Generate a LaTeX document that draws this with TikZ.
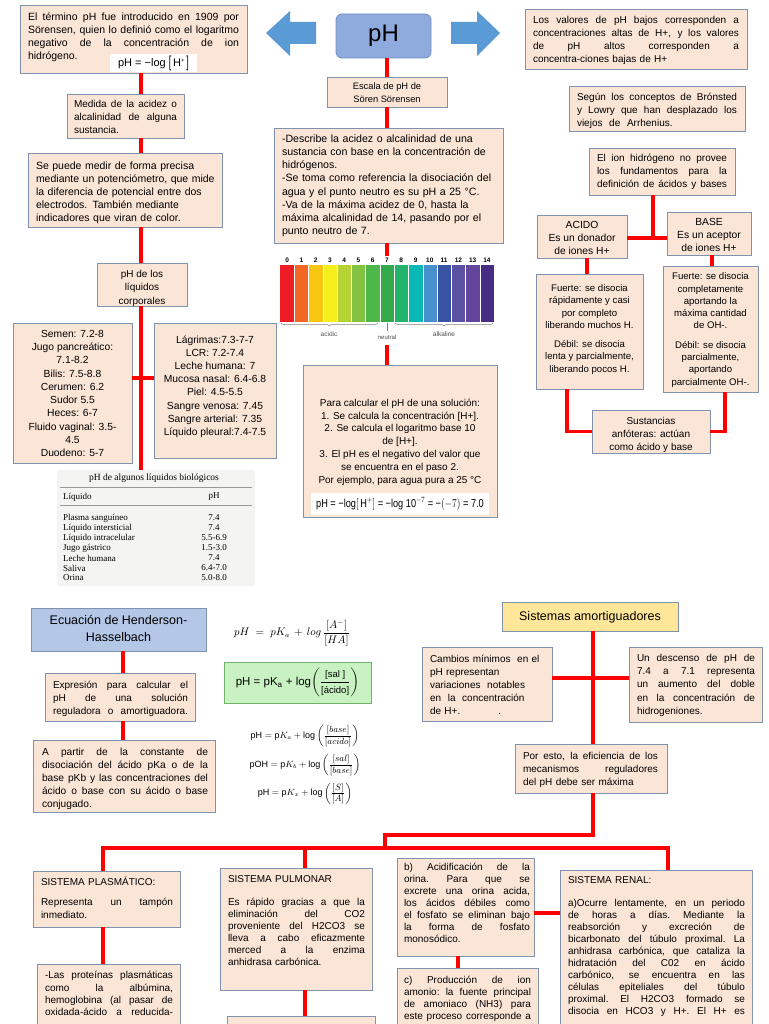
\documentclass[tikz,border=0pt]{standalone}
\usepackage{amsmath}
\usepackage{graphicx}
\usepackage{fontspec}
\setmainfont{Liberation Sans}
\newfontfamily\serif{Liberation Serif}
\usetikzlibrary{decorations.pathreplacing}
\setlength{\parindent}{0pt}
\definecolor{peach}{HTML}{FBE5D6}
\definecolor{bordc}{HTML}{7F93AE}
\definecolor{phblue}{HTML}{8FAADC}
\definecolor{phbord}{HTML}{6F8FC9}
\definecolor{arrowblue}{HTML}{5B9BD5}
\definecolor{hblue}{HTML}{B4C7E7}
\definecolor{yellowc}{HTML}{FFE699}
\definecolor{greenf}{HTML}{C9F2C2}
\definecolor{greenb}{HTML}{72B36C}
\definecolor{tablebg}{HTML}{F4F4F2}
\definecolor{redc}{HTML}{FF0000}
\definecolor{pc0}{HTML}{EE1C25}
\definecolor{pc1}{HTML}{F26724}
\definecolor{pc2}{HTML}{F8C611}
\definecolor{pc3}{HTML}{F5ED1C}
\definecolor{pc4}{HTML}{B5D333}
\definecolor{pc5}{HTML}{84C341}
\definecolor{pc6}{HTML}{4DB849}
\definecolor{pc7}{HTML}{33A94B}
\definecolor{pc8}{HTML}{22B46B}
\definecolor{pc9}{HTML}{0AB8B6}
\definecolor{pc10}{HTML}{4690CD}
\definecolor{pc11}{HTML}{3853A4}
\definecolor{pc12}{HTML}{5A51A2}
\definecolor{pc13}{HTML}{63459D}
\definecolor{pc14}{HTML}{462C83}
\newlength\jwid
\newcommand\fs[2]{\fontsize{#1}{#2}\selectfont}
\newcommand\jf[1]{\hbox to \jwid{\spaceskip=0.28em plus 1fil\xspaceskip=0.28em plus 1fil\relax #1}}
\newcommand\jl[1]{\par\jf{#1}}
\newcommand\tb[1]{\raisebox{-1.5pt}{\scalebox{0.8}[1.45]{#1}}}
\newcommand\bx[6]{\node[box,#6,minimum width=#4pt-#2pt,minimum height=#5pt-#3pt] (#1) at ({(#2+#4)/2},{(#3+#5)/2}) {};}
\tikzset{
  box/.style={draw=bordc, line width=0.8pt, fill=peach, inner sep=0pt, outer sep=0pt},
  txt/.style={inner sep=0pt, outer sep=0pt, align=left, anchor=north west, font=\fs{10}{13}},
  ctxt/.style={inner sep=0pt, outer sep=0pt, align=center, anchor=north, font=\fs{10}{13}},
  redl/.style={draw=redc, line width=3.5pt},
  jw/.style={text width=#1pt, execute at begin node={\setlength{\jwid}{#1pt}}},
}
\begin{document}
\begin{tikzpicture}[x=1pt,y=-1pt]
\useasboundingbox (0,0) rectangle (768,1024);
\fill[white] (0,0) rectangle (768,1024);

% ---------- top ----------
\bx{tl}{20}{5}{247}{73}{}
\node[txt, jw=211, font=\fs{10.5}{13.3}] (tlt) at (28,12.5) {\jf{El término pH fue introducido en 1909 por}\jl{Sörensen, quien lo definió como el logaritmo}\jl{negativo de la concentración de ion}};
\node[txt, font=\fs{10.5}{13.3}] (tlt2) at (28,52) {hidrógeno.};
\node[fill=white, minimum width=87pt, minimum height=18pt, inner sep=0pt] (f1) at (153.5,63.5) {\fs{11}{13}pH = −log \tb{[}\,H\raisebox{4pt}{\fs{6}{6}+}\,\tb{]}};

\fill[arrowblue] (266,33) -- (290,11) -- (290,22) -- (316,22) -- (316,44) -- (290,44) -- (290,56) -- cycle;
\fill[arrowblue] (500,33) -- (477,11) -- (477,22) -- (451,22) -- (451,44) -- (477,44) -- (477,56) -- cycle;

\node[draw=phbord, line width=0.8pt, fill=phblue, rounded corners=6pt, minimum width=95pt, minimum height=44pt, inner sep=0pt, font=\fs{24}{28}] (ph) at (383.5,36) {pH};

\coordinate (cx) at (387,0);
\bx{esc}{327}{77}{447}{107}{}
\node[ctxt, font=\fs{9.3}{13}] (esct) at (387,83) {Escala de pH de\\Sören Sörensen};

\bx{desc}{274}{128}{503}{243}{}
\node[txt, text width=220pt, font=\fs{10.6}{13.1}] (desct) at (282,135) {-Describe la acidez o alcalinidad de una\\sustancia con base en la concentración de\\hidrógenos.\\-Se toma como referencia la disociación del\\agua y el punto neutro es su pH a 25 °C.\\-Va de la máxima acidez de 0, hasta la\\máxima alcalinidad de 14, pasando por el\\punto neutro de 7.};

\draw[redl] (ph.south -| cx) -- (esc.north -| cx);
\draw[redl] (esc.south -| cx) -- (desc.north -| cx);
\coordinate (scaletop) at (387,256);
\draw[redl] (desc.south -| cx) -- (scaletop);

% pH scale
\foreach \i in {0,...,14} {
  \fill[pc\i] ({280+\i*14.27},265) rectangle ({280+(\i+1)*14.27},322);
  \node[inner sep=0pt, font=\bfseries\fs{6.5}{7}] (n\i) at ({280+(\i+0.5)*14.27},260) {\i};
}
\foreach \i in {1,...,14} { \draw[white, line width=0.3pt] ({280+\i*14.27},265) -- ({280+\i*14.27},322); }
\draw[gray, line width=0.5pt, decorate, decoration={brace, mirror, amplitude=3pt}] (281,323) -- (378,323);
\draw[gray, line width=0.5pt, decorate, decoration={brace, mirror, amplitude=3pt}] (395,323) -- (493,323);
\draw[gray, line width=0.5pt] (387,323) -- (387,331);
\node[inner sep=0pt, font=\fs{6.5}{7}, text=black!70] (acl) at (329,334) {acidic};
\node[inner sep=0pt, font=\fs{6}{7}, text=black!70] (nel) at (387,337) {neutral};
\node[inner sep=0pt, font=\fs{6.5}{7}, text=black!70] (all) at (444,334) {alkaline};

\coordinate (scalebot) at (387,345);
\bx{calc}{303}{365}{497}{517}{}
\draw[redl] (scalebot) -- (calc.north -| cx);
\node[ctxt, font=\fs{10}{12.8}] (calct) at (400,399) {Para calcular el pH de una solución:\\1. Se calcula la concentración [H+].\\2. Se calcula el logaritmo base 10\\de [H+].\\3. El pH es el negativo del valor que\\se encuentra en el paso 2.\\Por ejemplo, para agua pura a 25 °C};
\node[fill=white, minimum width=178pt, minimum height=22pt, inner sep=0pt] (f2) at (400,504) {\scalebox{0.8}[1]{\fs{11.5}{13}pH = −log$\left[\,\text{H}^{+}\right]$ = −log 10$^{-7}$ = −$\left(-7\right)$ = 7.0}};

% ---------- left column ----------
\coordinate (lx) at (141,0);
\coordinate (crossy) at (0,378);
\coordinate (lend) at (141,470);
\bx{med}{67}{94}{184}{138}{}
\node[txt, jw=103] (medt) at (74,100.5) {\jf{Medida de la acidez o}\jl{alcalinidad de alguna}\par sustancia.};
\bx{sep}{28}{153}{222}{227}{}
\node[txt, text width=186pt, font=\fs{10.5}{13}] (sept) at (36,162) {Se puede medir de forma precisa\\mediante un potenciómetro, que mide\\la diferencia de potencial entre dos\\electrodos. También mediante\\indicadores que viran de color.};
\bx{liq}{97}{263}{187}{306}{}
\node[ctxt, font=\fs{10}{13.5}] (liqt) at (142,270) {pH de los\\líquidos\\corporales};
\bx{ll}{13}{323}{132}{463}{}
\node[ctxt, font=\fs{10.3}{13.3}] (llt) at (72.5,330) {Semen: 7.2-8\\Jugo pancreático:\\7.1-8.2\\Bilis: 7.5-8.8\\Cerumen: 6.2\\Sudor 5.5\\Heces: 6-7\\Fluido vaginal: 3.5-\\4.5\\Duodeno: 5-7};
\bx{lr}{154}{323}{276}{458}{}
\node[ctxt, font=\fs{10.3}{13.1}] (lrt) at (215,336) {Lágrimas:7.3-7-7\\LCR: 7.2-7.4\\Leche humana: 7\\Mucosa nasal: 6.4-6.8\\Piel: 4.5-5.5\\Sangre venosa: 7.45\\Sangre arterial: 7.35\\Líquido pleural:7.4-7.5};
\draw[redl] (tl.south -| lx) -- (med.north -| lx);
\draw[redl] (med.south -| lx) -- (sep.north -| lx);
\draw[redl] (sep.south -| lx) -- (liq.north -| lx);
\draw[redl] (liq.south -| lx) -- (lend);
\draw[redl] (ll.east |- crossy) -- (lr.west |- crossy);

% table
\fill[tablebg] (57,470) rectangle (255,586);
\node[inner sep=0pt, font=\serif\fs{9.5}{11}] (tbt) at (154,478) {pH de algunos líquidos biológicos};
\draw[gray!80, line width=0.8pt] (60,487) -- (252,487);
\node[inner sep=0pt, anchor=west, font=\serif\fs{9}{10}] (th1) at (63,497) {Líquido};
\node[inner sep=0pt, font=\serif\fs{9}{10}] (th2) at (214,497) {pH};
\draw[gray!80, line width=0.6pt] (60,505) -- (252,505);
\foreach \a/\b [count=\k from 0] in {Plasma sanguíneo/7.4, Líquido intersticial/7.4, Líquido intracelular/5.5-6.9, Jugo gástrico/1.5-3.0, Leche humana/7.4, Saliva/6.4-7.0, Orina/5.0-8.0} {
  \node[inner sep=0pt, anchor=west, font=\serif\fs{9}{10}] (ra\k) at (63,{518+\k*10}) {\a};
  \node[inner sep=0pt, font=\serif\fs{9}{10}] (rb\k) at (214,{518+\k*10}) {\b};
}

% ---------- right column ----------
\coordinate (rx) at (653,0);
\coordinate (jy) at (0,238);
\bx{tr}{525}{9}{747}{69}{}
\node[txt, jw=206] (trt) at (533,16.5) {\jf{Los valores de pH bajos corresponden a}\jl{concentraciones altas de H+, y los valores}\jl{de pH altos corresponden a}\par concentra-ciones bajas de H+};
\bx{seg}{569}{86}{745}{131}{}
\node[txt, jw=160] (segt) at (577,93.5) {\jf{Según los conceptos de Brónsted}\jl{y Lowry que han desplazado los}\par viejos\ \ de\ \ Arrhenius.};
\bx{ion}{589}{148}{735}{195}{}
\node[txt, jw=130] (iont) at (597,154.5) {\jf{El ion hidrógeno no provee}\jl{los fundamentos para la}\jl{definición de ácidos y bases}};
\bx{aci}{537}{215}{627}{258}{}
\node[ctxt, font=\fs{10.3}{13}] (acit) at (582,221) {ACIDO\\Es un donador\\de iones H+};
\bx{bas}{667}{212}{751}{255}{}
\node[ctxt, font=\fs{10.3}{13}] (bast) at (709,218) {BASE\\Es un aceptor\\de iones H+};
\draw[redl] (rx |- ion.south) -- (rx |- jy);
\draw[redl] (aci.east |- jy) -- (bas.west |- jy);
\coordinate (ax) at (587,0);
\coordinate (bx2) at (712,0);
\bx{fl}{536}{274}{643}{389}{}
\node[ctxt, font=\fs{9.6}{12.4}] (flt) at (589.5,284.5) {Fuerte: se disocia\\rápidamente y casi\\por completo\\liberando muchos H.\\[6.5pt]Débil: se disocia\\lenta y parcialmente,\\liberando pocos H.};
\bx{fr}{663}{266}{758}{392}{}
\node[ctxt, font=\fs{9.6}{12.2}] (frt) at (710.5,273) {Fuerte: se disocia\\completamente\\aportando la\\máxima cantidad\\de OH-.\\[7.5pt]Débil: se disocia\\parcialmente,\\aportando\\parcialmente OH-.};
\draw[redl] (aci.south -| ax) -- (fl.north -| ax);
\draw[redl] (bas.south -| bx2) -- (fr.north -| bx2);
\bx{sus}{592}{410}{710}{453}{}
\node[ctxt, font=\fs{10}{13.3}] (sust) at (651,417) {Sustancias\\anfóteras: actúan\\como ácido y base};
\coordinate (flx) at (567,0);
\coordinate (frx) at (725,0);
\draw[redl] (fl.south -| flx) |- (sus.west);
\draw[redl] (fr.south -| frx) |- (sus.east);

% ---------- Henderson ----------
\bx{hh}{31}{608}{206}{651}{fill=hblue}
\node[ctxt, font=\fs{12.5}{17}] (hht) at (118.5,615.5) {Ecuación de Henderson-\\Hasselbach};
\coordinate (hx) at (123,0);
\bx{exp}{45}{673}{195}{721}{}
\node[txt, jw=135, font=\fs{10}{12.6}] (expt) at (53,681.5) {\jf{Expresión para calcular el}\jl{pH de una solución}\jl{reguladora o amortiguadora.}};
\bx{apa}{33}{740}{215}{812}{}
\node[txt, jw=166, font=\fs{10.2}{13}] (apat) at (42,748.5) {\jf{A partir de la constante de}\jl{disociación del ácido pKa o de la}\jl{base pKb y las concentraciones del}\jl{ácido o base con su ácido o base}\par conjugado.};
\draw[redl] (hh.south -| hx) -- (exp.north -| hx);
\draw[redl] (exp.south -| hx) -- (apa.north -| hx);

\node[inner sep=0pt] (hf1) at (292,633) {\fs{10.5}{13}$pH\;=\;pK_a\,+\,log\,\dfrac{[A^-]}{[HA]}$};
\node[draw=greenb, line width=0.8pt, fill=greenf, minimum width=147pt, minimum height=41pt, inner sep=0pt] (green) at (297.5,682.5) {\fs{11.5}{14}pH = pK$_{\text{a}}$ + log$\left(\dfrac{\text{\fs{9.5}{11}[sal ]}}{\text{\fs{9.5}{11}[ácido]}}\right)$};
\node[inner sep=0pt] (hf3) at (305,765) {\fs{9}{11}$\begin{gathered}
\mathrm{pH} = \mathrm{p}K_a + \log\left(\frac{[base]}{[acido]}\right)\\[3pt]
\mathrm{pOH} = \mathrm{p}K_b + \log\left(\frac{[sal]}{[base]}\right)\\[3pt]
\mathrm{pH} = \mathrm{p}K_x + \log\left(\frac{[S]}{[A]}\right)
\end{gathered}$};

% ---------- Sistemas amortiguadores ----------
\coordinate (sx) at (593,0);
\coordinate (hy) at (0,678);
\bx{sis}{502}{602}{678}{631}{fill=yellowc}
\node[inner sep=0pt, font=\fs{12.5}{15}] (sist) at (590,617) {Sistemas amortiguadores};
\bx{cam}{422}{647}{552}{721}{}
\node[txt, text width=120pt, font=\fs{10}{13.1}] (camt) at (430,655) {Cambios mínimos\ \ en el\\pH representan\\variaciones\ \ notables\\en\ \ la\ \ concentración\\de H+.\hspace{38pt}.};
\bx{des}{629}{647}{762}{722}{}
\node[txt, jw=118, font=\fs{10}{13.1}] (dest) at (637,654.5) {\jf{Un descenso de pH de}\jl{7.4 a 7.1 representa}\jl{un aumento del doble}\jl{en la concentración de}\par hidrogeniones.};
\bx{por}{515}{744}{667}{793}{}
\node[txt, jw=135, font=\fs{10}{13}] (port) at (523,752.5) {\jf{Por esto, la eficiencia de los}\jl{mecanismos reguladores}\par del pH debe ser máxima};
\draw[redl] (sis.south -| sx) -- (por.north -| sx);
\draw[redl] (cam.east |- hy) -- (des.west |- hy);

% ---------- bottom tree ----------
\coordinate (b2) at (385,835);
\coordinate (b3) at (385,848);
\coordinate (plx) at (103,0);
\coordinate (pux) at (305,0);
\coordinate (rnx) at (668,0);
\coordinate (bbx) at (458,0);
\coordinate (by) at (0,913);
\bx{pla}{33}{871}{180}{927}{}
\node[txt, jw=132, font=\fs{10}{12.2}] (plat) at (41,877) {\hbox{SISTEMA PLASMÁTICO:}\vskip 8pt\jl{Representa un tampón}\par inmediato.};
\bx{pro}{37}{964}{180}{1040}{}
\node[txt, jw=128, font=\fs{10}{12.3}] (prot) at (45,971.5) {\jf{-Las proteínas plasmáticas}\jl{como la albúmina,}\jl{hemoglobina (al pasar de}\jl{oxidada-ácido a reducida-}};
\bx{pul}{220}{868}{372}{990}{}
\node[txt, jw=137, font=\fs{10}{12}] (pult) at (228,876) {\hbox{SISTEMA PULMONAR}\vskip 11pt\jl{Es rápido gracias a que la}\jl{eliminación del CO2}\jl{proveniente del H2CO3 se}\jl{lleva a cabo eficazmente}\jl{merced a la enzima}\par anhidrasa carbónica.};
\bx{pu2}{227}{1016}{375}{1040}{}
\bx{bb}{397}{858}{534}{956}{}
\node[txt, jw=126, font=\fs{10}{12}] (bbt) at (404,863.5) {\jf{b) Acidificación de la}\jl{orina. Para que se}\jl{excrete una orina acida,}\jl{los ácidos débiles como}\jl{el fosfato se eliminan bajo}\jl{la forma de fosfato}\par monosódico.};
\bx{cc}{397}{968}{538}{1040}{}
\node[txt, jw=127, font=\fs{10}{12}] (cct) at (404,976.5) {\jf{c) Producción de ion}\jl{amonio: la fuente principal}\jl{de amoniaco (NH3) para}\jl{este proceso corresponde a}};
\bx{ren}{560}{870}{752}{1040}{}
\node[txt, jw=177, font=\fs{10}{12}] (rent) at (568,877) {\hbox{SISTEMA RENAL:}\vskip 11pt\jl{a)Ocurre lentamente, en un periodo}\jl{de horas a días. Mediante la}\jl{reabsorción y excreción de}\jl{bicarbonato del túbulo proximal. La}\jl{anhidrasa carbónica, que cataliza la}\jl{hidratación del C02 en ácido}\jl{carbónico, se encuentra en las}\jl{células epiteliales del túbulo}\jl{proximal. El H2CO3 formado se}\jl{disocia en HCO3 y H+. El H+ es}};

\draw[redl] (por.south -| sx) |- (b2) -- (b3);
\draw[redl] (pla.north -| plx) |- (b3) -| (ren.north -| rnx);
\draw[redl] (pul.north -| pux) -- (pux |- b3);
\draw[redl] (pla.south -| plx) -- (pro.north -| plx);
\draw[redl] (pul.south -| pux) -- (pu2.north -| pux);
\draw[redl] (bb.south -| bbx) -- (cc.north -| bbx);
\draw[redl] (bb.east |- by) -- (ren.west |- by);
\end{tikzpicture}
\end{document}
